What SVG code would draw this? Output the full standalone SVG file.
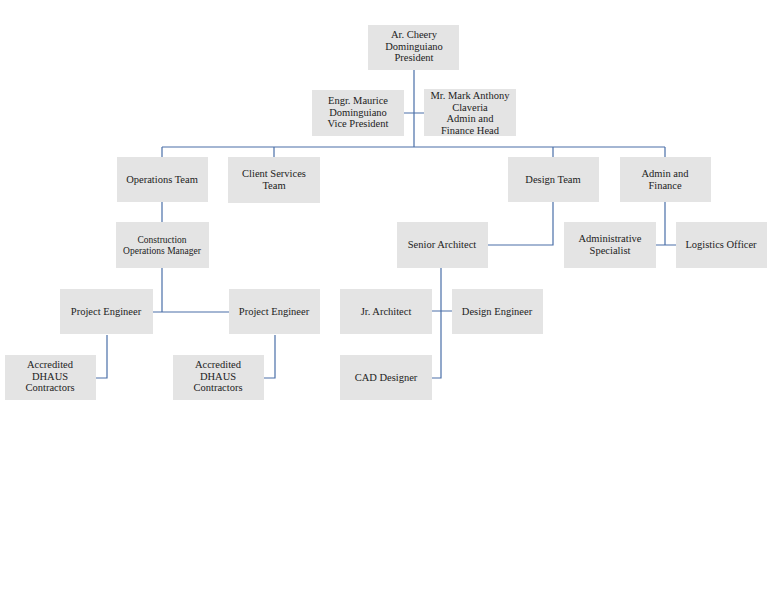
<svg xmlns="http://www.w3.org/2000/svg" width="768" height="594" viewBox="0 0 768 594">
<style>
.b{fill:#e4e4e4}
.t{font-family:"Liberation Serif",serif;font-size:10.5px;fill:#222;text-anchor:middle}
.s{font-size:9.5px}
.c{fill:none;stroke:#4a6fa8;stroke-width:1.2}
</style>
<rect width="768" height="594" fill="#fff"/>
<g id="connectors">
<path class="c" d="M414 70V147M404 113H424M162 147H665M162 147V157M274 147V157M553 147V157M665 147V157"/>
<path class="c" d="M162 202V222M162 268V312H153M162 312H229M107 335V378H96M275 335V378H264"/>
<path class="c" d="M553 202V245H488M441 268V378H432M432 311H452M665 202V245M656 245H676"/>
</g>
<g id="president"><rect class="b" x="368" y="25" width="91" height="45"/><text class="t" x="414" y="38">Ar. Cheery<tspan x="414" dy="11.5">Dominguiano</tspan><tspan x="414" dy="11.5">President</tspan></text></g>
<g id="vp"><rect class="b" x="312" y="90" width="92" height="46"/><text class="t" x="358" y="104">Engr. Maurice<tspan x="358" dy="11.5">Dominguiano</tspan><tspan x="358" dy="11.5">Vice President</tspan></text></g>
<g id="adminhead"><rect class="b" x="424" y="89" width="92" height="47"/><text class="t" x="470" y="99">Mr. Mark Anthony<tspan x="470" dy="11.5">Claveria</tspan><tspan x="470" dy="11.5">Admin and</tspan><tspan x="470" dy="11.5">Finance Head</tspan></text></g>
<g id="ops"><rect class="b" x="117" y="157" width="91" height="45"/><text class="t" x="162" y="183">Operations Team</text></g>
<g id="client"><rect class="b" x="228" y="157" width="92" height="46"/><text class="t" x="274" y="177">Client Services<tspan x="274" dy="11.5">Team</tspan></text></g>
<g id="design"><rect class="b" x="508" y="157" width="91" height="45"/><text class="t" x="553" y="183">Design Team</text></g>
<g id="adminfin"><rect class="b" x="620" y="157" width="91" height="45"/><text class="t" x="665" y="177">Admin and<tspan x="665" dy="11.5">Finance</tspan></text></g>
<g id="com"><rect class="b" x="116" y="222" width="93" height="46"/><text class="t s" x="162" y="243">Construction<tspan x="162" dy="11">Operations Manager</tspan></text></g>
<g id="pe1"><rect class="b" x="60" y="289" width="93" height="45"/><text class="t" x="106" y="315">Project Engineer</text></g>
<g id="pe2"><rect class="b" x="229" y="289" width="91" height="45"/><text class="t" x="274" y="315">Project Engineer</text></g>
<g id="acc1"><rect class="b" x="5" y="355" width="91" height="45"/><text class="t" x="50" y="368">Accredited<tspan x="50" dy="11.5">DHAUS</tspan><tspan x="50" dy="11.5">Contractors</tspan></text></g>
<g id="acc2"><rect class="b" x="173" y="355" width="91" height="45"/><text class="t" x="218" y="368">Accredited<tspan x="218" dy="11.5">DHAUS</tspan><tspan x="218" dy="11.5">Contractors</tspan></text></g>
<g id="senior"><rect class="b" x="397" y="222" width="91" height="46"/><text class="t" x="442" y="248">Senior Architect</text></g>
<g id="jr"><rect class="b" x="340" y="289" width="92" height="45"/><text class="t" x="386" y="315">Jr. Architect</text></g>
<g id="deseng"><rect class="b" x="452" y="289" width="91" height="45"/><text class="t" x="497" y="315">Design Engineer</text></g>
<g id="cad"><rect class="b" x="340" y="355" width="92" height="45"/><text class="t" x="386" y="381">CAD Designer</text></g>
<g id="adminspec"><rect class="b" x="564" y="222" width="92" height="46"/><text class="t" x="610" y="242">Administrative<tspan x="610" dy="11.5">Specialist</tspan></text></g>
<g id="logistics"><rect class="b" x="676" y="222" width="91" height="46"/><text class="t" x="721" y="248">Logistics Officer</text></g>
</svg>
